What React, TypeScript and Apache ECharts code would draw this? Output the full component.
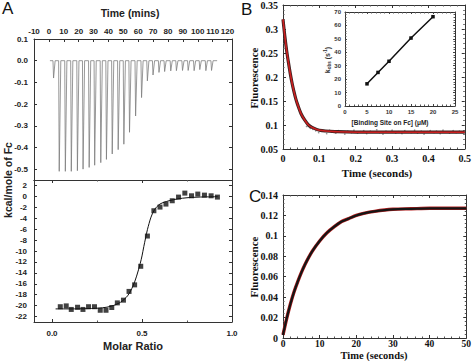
import React, { useEffect, useRef } from "react";
import * as echarts from "echarts";

// ---------- Panel A (ITC) ----------
const baselineStart = 0.7;
const baselineEnd = 113;
const injectionTimes = [2.9, 6.7, 10.8, 14.8, 18.9, 22.7, 26.8, 30.5, 34.6, 38.4, 42.3, 46.3, 50.1, 53.9, 58.0, 62.0, 65.9, 69.7, 73.7, 77.5, 81.6, 85.4, 89.5, 93.3, 97.3, 101.1, 105.2, 109.0];
const injectionPeaks = [-0.08, -0.51, -0.51, -0.51, -0.507, -0.5, -0.492, -0.482, -0.47, -0.455, -0.43, -0.41, -0.385, -0.33, -0.255, -0.17, -0.093, -0.066, -0.054, -0.05, -0.047, -0.046, -0.045, -0.045, -0.046, -0.041, -0.046, -0.045];

const molarRatio = [0.046, 0.079, 0.107, 0.142, 0.172, 0.203, 0.236, 0.268, 0.3, 0.332, 0.363, 0.397, 0.428, 0.459, 0.493, 0.53, 0.566, 0.6, 0.633, 0.668, 0.703, 0.738, 0.775, 0.81, 0.847, 0.884, 0.919];
const heatPerMole = [-20.2, -20.05, -20.7, -20.3, -20.7, -20.2, -20.2, -20.85, -20.85, -20.35, -19.5, -19.0, -17.4, -16.2, -12.8, -7.26, -2.63, -1.96, -1.41, -0.8, -0.13, 0.6, 0.11, 0.42, 0.23, 0.11, -0.13];

const fitRatio = [0.02, 0.1, 0.2, 0.28, 0.33, 0.38, 0.42, 0.45, 0.47, 0.49, 0.5, 0.51, 0.52, 0.53, 0.55, 0.57, 0.6, 0.65, 0.7, 0.75, 0.8, 0.85, 0.92];
const fitHeat = [-20.6, -20.6, -20.55, -20.4, -20.1, -19.4, -18.2, -16.4, -14.6, -12.3, -10.9, -9.2, -7.6, -6.1, -3.8, -2.4, -1.4, -0.8, -0.45, -0.25, -0.15, -0.1, -0.05];

// ---------- Panel B (stopped-flow decay) ----------
const decayTime = [0, 0.005, 0.01, 0.015, 0.02, 0.025, 0.03, 0.035, 0.04, 0.05, 0.06, 0.07, 0.08, 0.1, 0.15, 0.2, 0.3, 0.4, 0.5];
const decayFluor = [0.32, 0.285, 0.255, 0.23, 0.207, 0.187, 0.17, 0.155, 0.143, 0.123, 0.11, 0.1, 0.095, 0.089, 0.086, 0.085, 0.085, 0.085, 0.085];
const noiseTime = [0.065, 0.075, 0.082, 0.09, 0.098, 0.105, 0.113, 0.12, 0.128, 0.135, 0.145, 0.152, 0.16, 0.17, 0.178, 0.188, 0.195, 0.205, 0.213, 0.222, 0.23, 0.24, 0.248, 0.258, 0.265, 0.275, 0.283, 0.292, 0.3, 0.31, 0.318, 0.327, 0.335, 0.345, 0.352, 0.362, 0.37, 0.38, 0.388, 0.397, 0.405, 0.415, 0.422, 0.432, 0.44, 0.45, 0.458, 0.468, 0.476, 0.485, 0.493];
const noiseFluor = [0.097, 0.093, 0.091, 0.088, 0.084, 0.09, 0.087, 0.082, 0.089, 0.085, 0.083, 0.088, 0.086, 0.081, 0.087, 0.084, 0.089, 0.083, 0.086, 0.088, 0.082, 0.087, 0.085, 0.09, 0.084, 0.081, 0.087, 0.085, 0.089, 0.083, 0.086, 0.082, 0.088, 0.085, 0.084, 0.089, 0.083, 0.087, 0.081, 0.086, 0.088, 0.084, 0.087, 0.082, 0.089, 0.085, 0.083, 0.088, 0.084, 0.087, 0.085];

// Inset
const bindingSite = [5, 7.5, 10, 15, 20];
const kObs = [16.5, 25, 33.3, 50.6, 66.5];

// ---------- Panel C ----------
const riseTime = [0, 1, 2, 3, 4, 5, 6, 8, 10, 12, 14, 16, 18, 20, 22, 25, 30, 35, 40, 45, 50];
const riseFluor = [0.003, 0.019, 0.033, 0.045, 0.055, 0.064, 0.072, 0.085, 0.095, 0.103, 0.109, 0.114, 0.117, 0.12, 0.122, 0.124, 0.126, 0.1265, 0.127, 0.127, 0.127];

const zip = (a: number[], b: number[]) => a.map((v, i) => [v, b[i]]);

const fA = { fontFamily: "Liberation Sans", fontWeight: "bold", fontSize: 8, color: "#222" };
const fB = { fontFamily: "Liberation Serif", fontWeight: "bold", fontSize: 10, color: "#111" };
const fI = { fontFamily: "Liberation Sans", fontWeight: "bold", fontSize: 6, color: "#333" };

function axis(gridIndex: number, min: number, max: number, position: string, label: any, extra: any = {}, minor = 0) {
  return {
    type: "value",
    gridIndex,
    min,
    max,
    position,
    axisLine: { show: true, onZero: false, lineStyle: { color: "#333", width: 1 } },
    axisTick: { show: true, inside: true, length: 3, lineStyle: { color: "#333", width: 1 } },
    minorTick: { show: minor > 0, splitNumber: minor || 5, length: 1.5, lineStyle: { color: "#555" } },
    splitLine: { show: false },
    axisLabel: label ? { show: true, ...label } : { show: false },
    ...extra,
  };
}

export default function App() {
  const ref = useRef<HTMLDivElement>(null);
  useEffect(() => {
    if (!ref.current) return;
    const chart = echarts.init(ref.current, null, { renderer: "svg" });

    const rawTrace: number[][] = [[baselineStart, 0]];
    injectionTimes.forEach((t, i) => {
      rawTrace.push([t - 0.15, 0], [t + 0.25, injectionPeaks[i]], [t + 1.3, 0]);
    });
    rawTrace.push([baselineEnd, 0]);

    const fix1 = (v: number) => v.toFixed(1);
    const insetTick = { show: true, inside: true, length: 2, lineStyle: { color: "#444" } };

    const xAxis = [
      // grid 0: ITC raw (time on top)
      axis(0, -10, 123, "top", { ...fA, margin: 4, showMaxLabel: false }, { interval: 10 }),
      axis(0, -10, 123, "bottom", null, { interval: 10, axisTick: { show: false } }),
      // grid 1: molar ratio
      axis(1, -0.1, 1.0, "bottom", { ...fA, margin: 7, formatter: fix1, showMinLabel: false }, { minInterval: 0.5, maxInterval: 0.5, splitNumber: 2 }, 2),
      axis(1, -0.1, 1.0, "top", null, { minInterval: 0.5, maxInterval: 0.5, splitNumber: 2 }, 2),
      // grid 2: B main
      axis(2, 0, 0.5, "bottom", { ...fB, margin: 4 }, { interval: 0.1 }, 5),
      axis(2, 0, 0.5, "top", null, { interval: 0.1 }, 5),
      // grid 3: inset
      axis(3, 0, 25, "bottom", { ...fI, margin: 3 }, { interval: 5, axisTick: insetTick }, 5),
      axis(3, 0, 25, "top", null, { interval: 5, axisTick: insetTick }, 5),
      // grid 4: C
      axis(4, 0, 50, "bottom", { ...fB, fontSize: 9.5, margin: 1 }, { interval: 10 }, 5),
      axis(4, 0, 50, "top", null, { interval: 10 }, 5),
    ];
    const yAxis = [
      axis(0, -0.55, 0.1, "left", { ...fA, margin: 6, formatter: fix1, showMinLabel: false }, { minInterval: 0.1, maxInterval: 0.1, splitNumber: 7 }),
      axis(0, -0.55, 0.1, "right", null, { minInterval: 0.1, maxInterval: 0.1, splitNumber: 7 }),
      axis(1, -23, 3, "left", { ...fA, margin: 7, showMinLabel: false, showMaxLabel: false }, { minInterval: 2, maxInterval: 2, splitNumber: 13 }),
      axis(1, -23, 3, "right", null, { minInterval: 2, maxInterval: 2, splitNumber: 13 }),
      axis(2, 0.05, 0.35, "left", { ...fB, margin: 5 }, { interval: 0.05 }, 5),
      axis(2, 0.05, 0.35, "right", null, { interval: 0.05 }, 5),
      axis(3, 0, 70, "left", { ...fI, margin: 4 }, { interval: 10, axisTick: insetTick }, 5),
      axis(3, 0, 70, "right", null, { interval: 10, axisTick: insetTick }, 5),
      axis(4, 0, 0.14, "left", { ...fB, margin: 5 }, { interval: 0.02 }, 5),
      axis(4, 0, 0.14, "right", null, { interval: 0.02 }, 5),
    ];

    const titleA = { fontFamily: "Liberation Sans", fontWeight: "bold", fontSize: 10.5, fill: "#222" };
    const titleB = { fontFamily: "Liberation Serif", fontWeight: "bold", fontSize: 11, fill: "#111" };
    const letter = { fontFamily: "Liberation Sans", fontWeight: "normal", fontSize: 17, fill: "#111" };
    const mkText = (text: string, x: number, y: number, style: any, rotation = 0, align = "center") => ({
      type: "text",
      x,
      y,
      rotation,
      style: { text, align, verticalAlign: "middle", ...style },
      z: 10,
    });

    chart.setOption({
      animation: false,
      backgroundColor: "#fff",
      grid: [
        { left: 34, top: 39, width: 198, height: 141 },
        { left: 34, top: 180, width: 198, height: 142 },
        { left: 283, top: 5, width: 187, height: 144 },
        { left: 345, top: 12, width: 110, height: 94 },
        { left: 283, top: 195, width: 184, height: 143 },
      ],
      xAxis,
      yAxis,
      series: [
        {
          type: "line", xAxisIndex: 0, yAxisIndex: 0, data: rawTrace, showSymbol: false, symbol: "none",
          lineStyle: { color: "#7d7d7d", width: 0.8 },
        },
        {
          type: "line", xAxisIndex: 2, yAxisIndex: 2, data: zip(fitRatio, fitHeat), symbol: "none", smooth: 0.3,
          lineStyle: { color: "#111", width: 1 },
        },
        {
          type: "scatter", xAxisIndex: 2, yAxisIndex: 2, data: zip(molarRatio, heatPerMole), symbol: "rect", symbolSize: 5,
          itemStyle: { color: "#111" },
        },
        {
          type: "line", xAxisIndex: 4, yAxisIndex: 4, data: zip(decayTime, decayFluor), symbol: "none", smooth: 0.3,
          lineStyle: { color: "#3a2020", width: 3.2 },
        },
        {
          type: "scatter", xAxisIndex: 4, yAxisIndex: 4, data: zip(noiseTime, noiseFluor), symbol: "circle", symbolSize: 1.6,
          itemStyle: { color: "#777" },
        },
        {
          type: "line", xAxisIndex: 4, yAxisIndex: 4, data: zip(decayTime, decayFluor), symbol: "none", smooth: 0.3,
          lineStyle: { color: "#cc1f1f", width: 1.6 },
        },
        {
          type: "line", xAxisIndex: 6, yAxisIndex: 6, data: zip(bindingSite, kObs), symbol: "rect", symbolSize: 3.5,
          itemStyle: { color: "#111" }, lineStyle: { color: "#111", width: 1.5 },
        },
        {
          type: "line", xAxisIndex: 8, yAxisIndex: 8, data: zip(riseTime, riseFluor), symbol: "none", smooth: 0.3,
          lineStyle: { color: "#b52020", width: 3.4 },
        },
        {
          type: "line", xAxisIndex: 8, yAxisIndex: 8, data: zip(riseTime, riseFluor), symbol: "none", smooth: 0.3,
          lineStyle: { color: "#151515", width: 2.2 },
        },
      ],
      graphic: [
        mkText("A", 2, 8, letter, 0, "left"),
        mkText("Time (mins)", 130, 13, titleA),
        mkText("Molar Ratio", 133, 346, { ...titleA, fontSize: 11 }),
        mkText("kcal/mole of Fc", 8, 180, titleA, Math.PI / 2),
        mkText("B", 241, 9, letter, 0, "left"),
        mkText("Fluorescence", 253.5, 78, titleB, Math.PI / 2),
        mkText("Time (seconds)", 377, 173, titleB),
        mkText("C", 249, 196, letter, 0, "left"),
        mkText("Fluorescence", 253.5, 267, titleB, Math.PI / 2),
        mkText("Time (seconds)", 374, 355, { ...titleB, fontSize: 10.5 }),
        mkText("[Binding Site on Fc] (\u03bcM)", 390, 122, { fontFamily: "Liberation Sans", fontWeight: "bold", fontSize: 6.5, fill: "#222" }),
        {
          type: "text",
          x: 327,
          y: 60,
          rotation: Math.PI / 2,
          z: 10,
          style: {
            text: "{k|k}{s|obs} (s{p|-1})",
            align: "center",
            verticalAlign: "middle",
            fontFamily: "Liberation Sans",
            fontWeight: "bold",
            fontSize: 7,
            fill: "#333",
            rich: {
              k: { fontFamily: "Liberation Sans", fontWeight: "bold", fontSize: 7, fill: "#333" },
              s: { fontFamily: "Liberation Sans", fontWeight: "bold", fontSize: 4.5, fill: "#333", verticalAlign: "bottom", padding: [4, 0, 0, 0] },
              p: { fontFamily: "Liberation Sans", fontWeight: "bold", fontSize: 4.5, fill: "#333", verticalAlign: "top", padding: [0, 0, 4, 0] },
            },
          },
        },
      ],
    });
    return () => chart.dispose();
  }, []);
  return <div ref={ref} style={{ position: "fixed", left: 0, top: 0, width: 474, height: 361 }} />;
}
